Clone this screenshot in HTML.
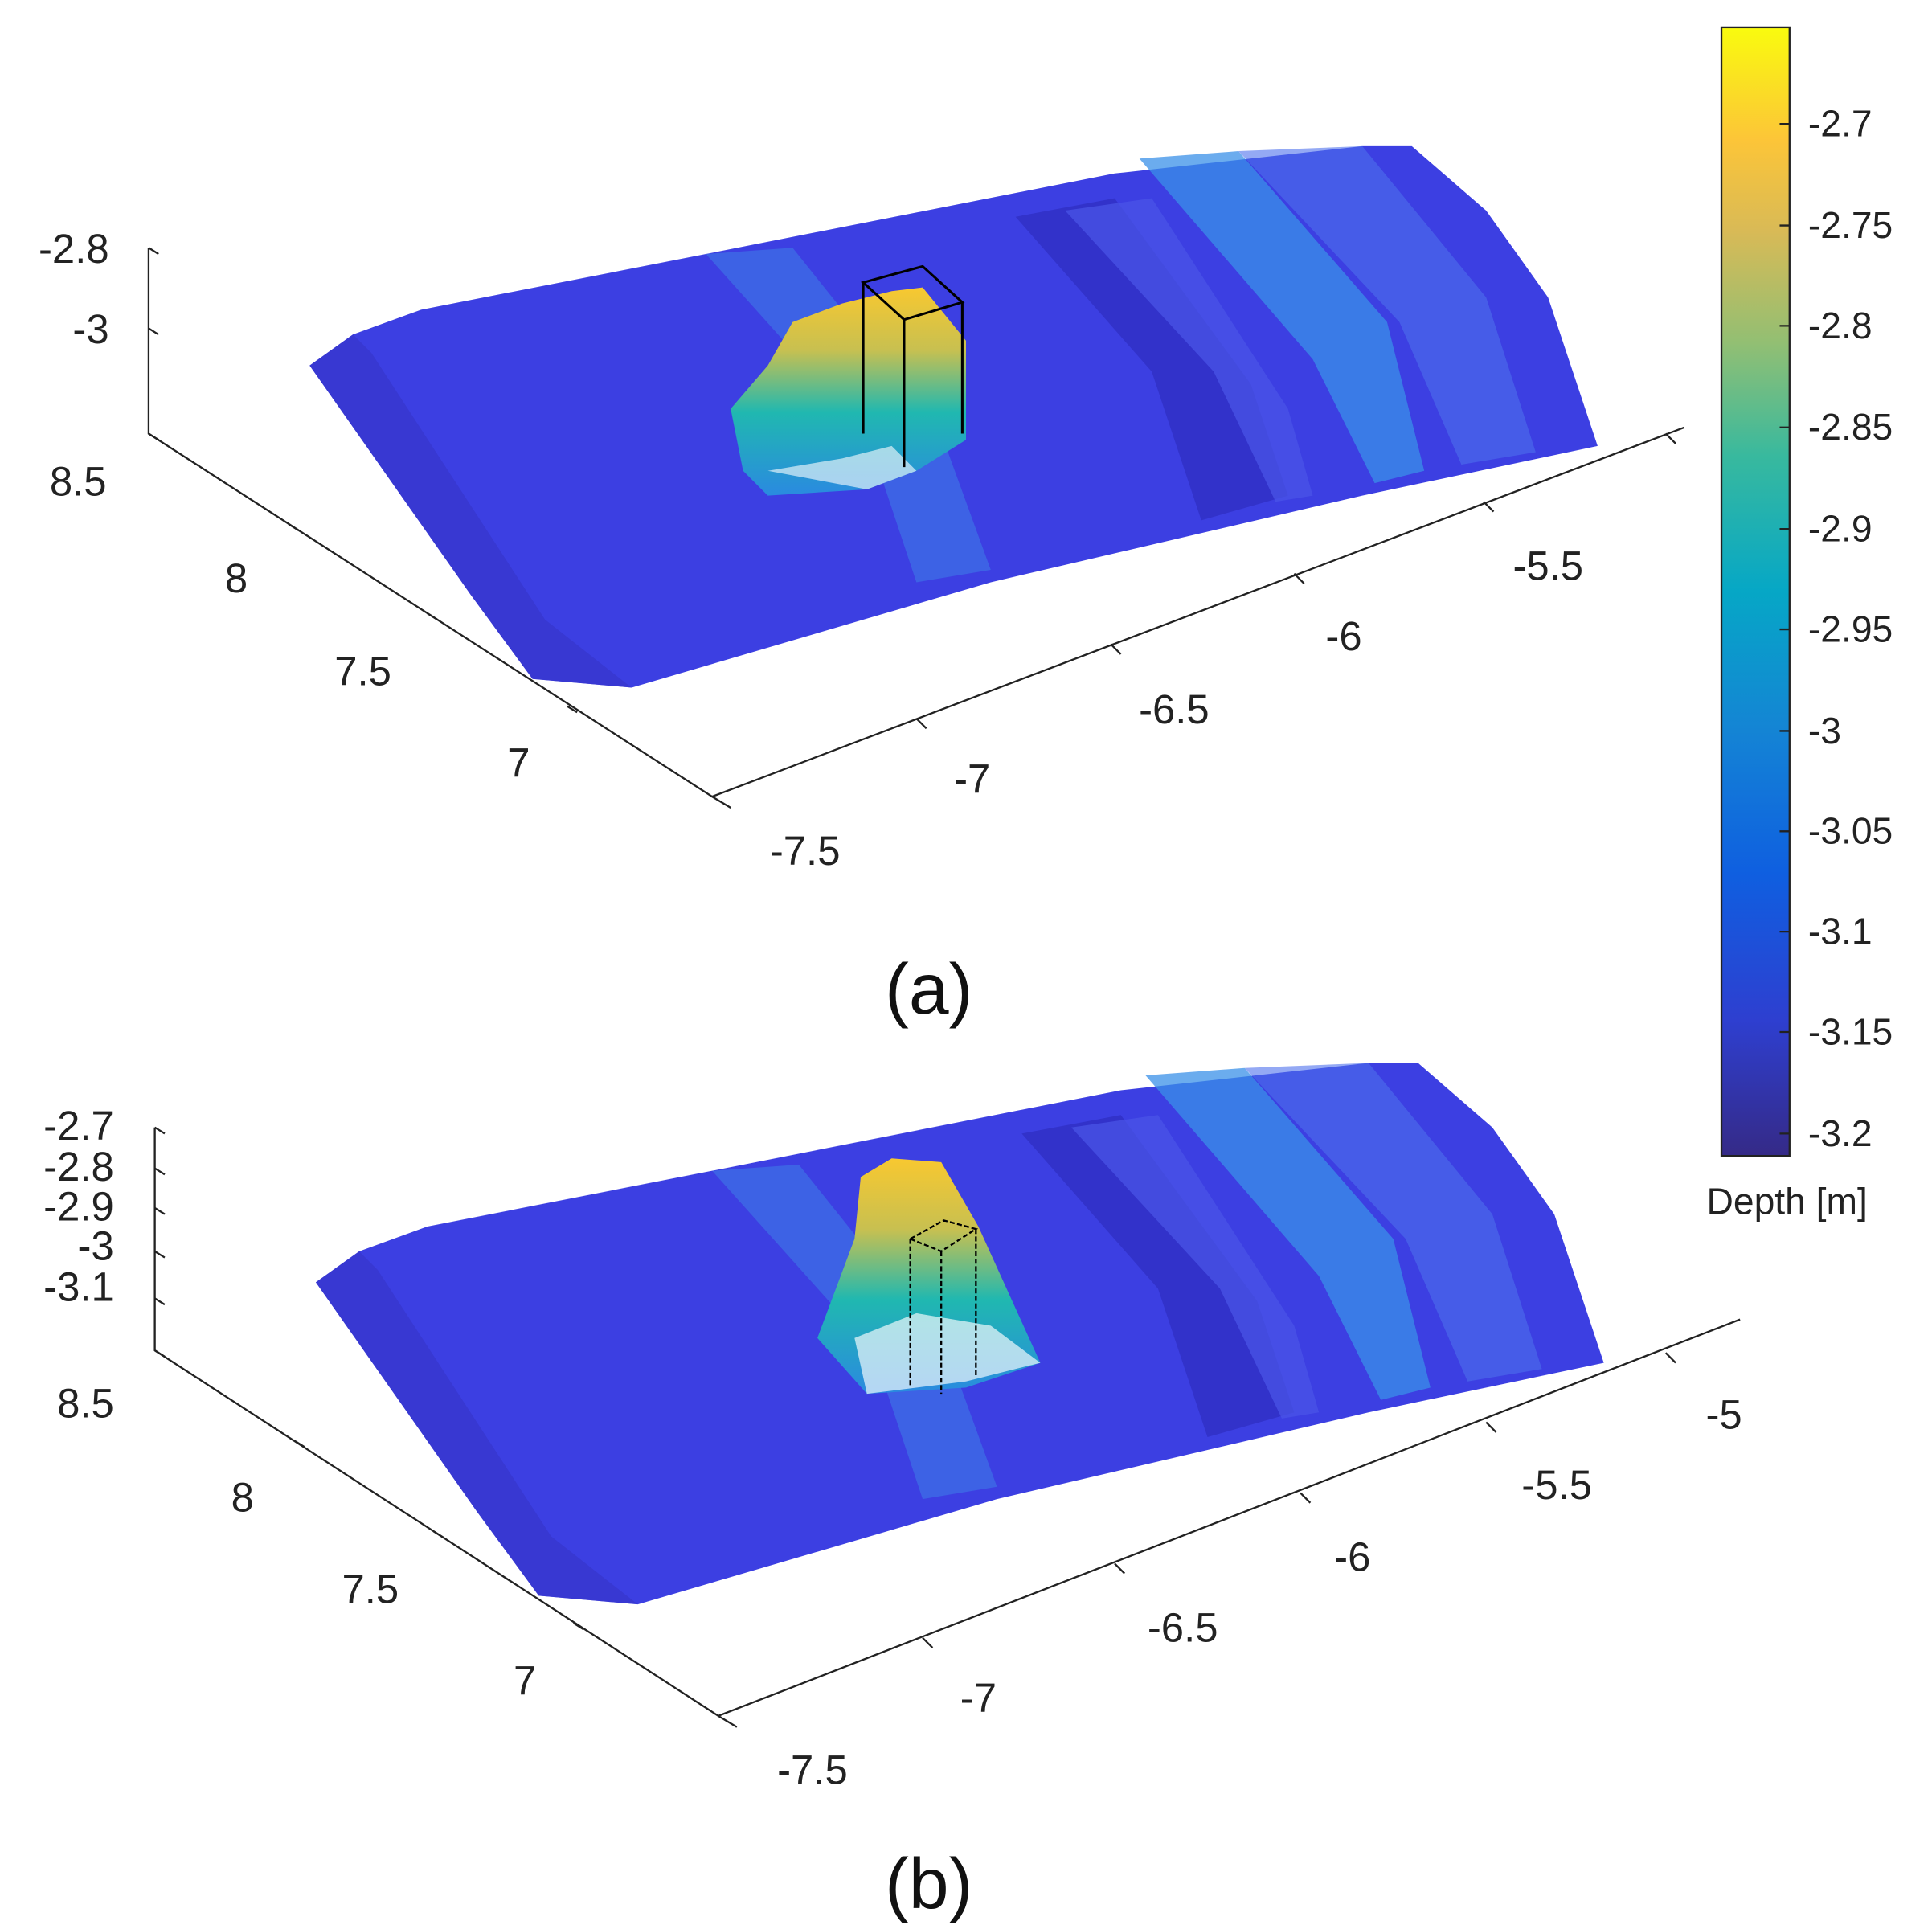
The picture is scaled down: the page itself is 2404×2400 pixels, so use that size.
<!DOCTYPE html>
<html><head><meta charset="utf-8"><style>html,body{margin:0;padding:0;background:#fff}svg{display:block}</style></head>
<body>
<svg width="2404" height="2400" viewBox="0 0 1560 1557" preserveAspectRatio="none" xmlns="http://www.w3.org/2000/svg" font-family="Liberation Sans, sans-serif">
<defs>
<linearGradient id="cb" x1="0" y1="1" x2="0" y2="0">
<stop offset="0" stop-color="#352a87"/><stop offset="0.12" stop-color="#2e3fd0"/><stop offset="0.25" stop-color="#0f5fe0"/><stop offset="0.38" stop-color="#1485d4"/><stop offset="0.5" stop-color="#06a7c6"/><stop offset="0.62" stop-color="#38b99e"/><stop offset="0.72" stop-color="#92bf73"/><stop offset="0.82" stop-color="#d9ba56"/><stop offset="0.9" stop-color="#fcc538"/><stop offset="1" stop-color="#f9fb0e"/>
</linearGradient>
<linearGradient id="pk" x1="0" y1="1" x2="0" y2="0">
<stop offset="0" stop-color="#2a8ae0"/><stop offset="0.4" stop-color="#20b8b0"/><stop offset="0.7" stop-color="#c8c050"/><stop offset="1" stop-color="#f8c830"/>
</linearGradient>
<g id="surf">
<path d="M250,295 L285,270 L340,250 L570,205 L900,140 L1100,118 L1140,118 L1200,170 L1250,240 L1290,360 L1100,400 L800,470 L510,555 L430,548 L380,480 Z" fill="#3c3fe2"/>
<path d="M820,175 L900,160 L1010,310 L1040,400 L970,420 L930,300 Z" fill="#3030c4" opacity="0.8"/>
<path d="M860,170 L930,160 L1040,330 L1060,400 L1030,405 L980,300 Z" fill="#4a55e8" opacity="0.7"/>
<path d="M920,128 L1000,122 L1120,260 L1150,380 L1110,390 L1060,290 Z" fill="#3a90e8" opacity="0.75"/>
<path d="M1000,122 L1100,118 L1200,240 L1240,365 L1180,375 L1130,260 Z" fill="#4c70ec" opacity="0.6"/>
<path d="M570,205 L640,200 L760,350 L800,460 L740,470 L700,350 Z" fill="#3d7ae8" opacity="0.6"/>
<path d="M250,295 L285,270 L300,285 L440,500 L510,555 L430,548 L380,480 Z" fill="#3636cc" opacity="0.7"/>
</g>
</defs>
<use href="#surf"/>
<path d="M600,380 L590,330 L620,295 L640,260 L680,245 L720,235 L745,232 L780,275 L780,355 L740,380 L700,395 L620,400 Z" fill="url(#pk)"/>
<path d="M620,380 L700,395 L740,380 L720,360 L680,370 Z" fill="#fff" opacity="0.6"/>
<g fill="none" stroke="#000" stroke-width="2"><path d="M697,228 L730,258 L777,244 L745,215 Z M697,228 L697,350 M730,258 L730,377 M777,244 L777,350"/></g>
<g transform="translate(5,740)"><use href="#surf"/></g>
<path d="M660,1080 L690,1000 L695,950 L720,935 L760,938 L790,990 L840,1100 L780,1120 L700,1125 Z" fill="url(#pk)"/>
<path d="M690,1080 L740,1060 L800,1070 L840,1100 L780,1115 L700,1125 Z" fill="#fff" opacity="0.65"/>
<g fill="none" stroke="#000" stroke-width="1.5" stroke-dasharray="4,2"><path d="M735,1000 L760,1010 L788,992 L762,985 Z M735,1000 L735,1120 M760,1010 L760,1125 M788,992 L788,1110"/></g>
<g stroke="#222" stroke-width="1.5" fill="none">
<path d="M120,200 L120,350 L575,643 L1360,345"/>
<path d="M120,200 L128,205 M120,265 L128,270 M120,350 L128,355 M233,423 L241,428 M345,495 L353,500 M458,570 L466,575 M575,643 L590,652 M740,580 L748,588 M897,520 L905,528 M1045,463 L1053,471 M1198,405 L1206,413 M1345,350 L1353,358"/>
<path d="M125,910 L125,1090 L580,1385 L1405,1065"/>
<path d="M125,910 L133,915 M125,943 L133,948 M125,975 L133,980 M125,1010 L133,1015 M125,1048 L133,1053 M125,1090 L133,1095 M238,1163 L246,1168 M350,1236 L358,1241 M463,1310 L471,1315 M580,1385 L595,1394 M745,1322 L753,1330 M900,1262 L908,1270 M1050,1205 L1058,1213 M1200,1148 L1208,1156 M1345,1092 L1353,1100"/>
</g>
<g font-size="33" fill="#222">
<text x="88" y="212" text-anchor="end">-2.8</text><text x="88" y="277" text-anchor="end">-3</text>
<text x="86" y="400" text-anchor="end">8.5</text><text x="200" y="478" text-anchor="end">8</text><text x="316" y="553" text-anchor="end">7.5</text><text x="428" y="627" text-anchor="end">7</text>
<text x="650" y="698" text-anchor="middle">-7.5</text><text x="785" y="640" text-anchor="middle">-7</text><text x="948" y="584" text-anchor="middle">-6.5</text><text x="1085" y="525" text-anchor="middle">-6</text><text x="1250" y="468" text-anchor="middle">-5.5</text>
<text x="92" y="920" text-anchor="end">-2.7</text><text x="92" y="953" text-anchor="end">-2.8</text><text x="92" y="985" text-anchor="end">-2.9</text><text x="92" y="1017" text-anchor="end">-3</text><text x="92" y="1050" text-anchor="end">-3.1</text>
<text x="92" y="1144" text-anchor="end">8.5</text><text x="205" y="1220" text-anchor="end">8</text><text x="322" y="1294" text-anchor="end">7.5</text><text x="433" y="1368" text-anchor="end">7</text>
<text x="656" y="1440" text-anchor="middle">-7.5</text><text x="790" y="1382" text-anchor="middle">-7</text><text x="955" y="1325" text-anchor="middle">-6.5</text><text x="1092" y="1268" text-anchor="middle">-6</text><text x="1257" y="1210" text-anchor="middle">-5.5</text><text x="1392" y="1153" text-anchor="middle">-5</text>
</g>
<text x="750" y="818" font-size="58" text-anchor="middle" fill="#111">(a)</text>
<text x="750" y="1540" font-size="58" text-anchor="middle" fill="#111">(b)</text>
<rect x="1390" y="22" width="55" height="911" fill="url(#cb)" stroke="#222" stroke-width="1.5"/>
<g stroke="#222" stroke-width="1.5">
<path d="M1437,100 H1445 M1437,182 H1445 M1437,263 H1445 M1437,345 H1445 M1437,427 H1445 M1437,508 H1445 M1437,590 H1445 M1437,671 H1445 M1437,752 H1445 M1437,833 H1445 M1437,915 H1445"/>
</g>
<g font-size="30" fill="#222">
<text x="1460" y="110">-2.7</text><text x="1460" y="192">-2.75</text><text x="1460" y="273">-2.8</text><text x="1460" y="355">-2.85</text><text x="1460" y="437">-2.9</text><text x="1460" y="518">-2.95</text><text x="1460" y="600">-3</text><text x="1460" y="681">-3.05</text><text x="1460" y="762">-3.1</text><text x="1460" y="843">-3.15</text><text x="1460" y="925">-3.2</text>
<text x="1378" y="980">Depth [m]</text>
</g>
</svg>
</body></html>
